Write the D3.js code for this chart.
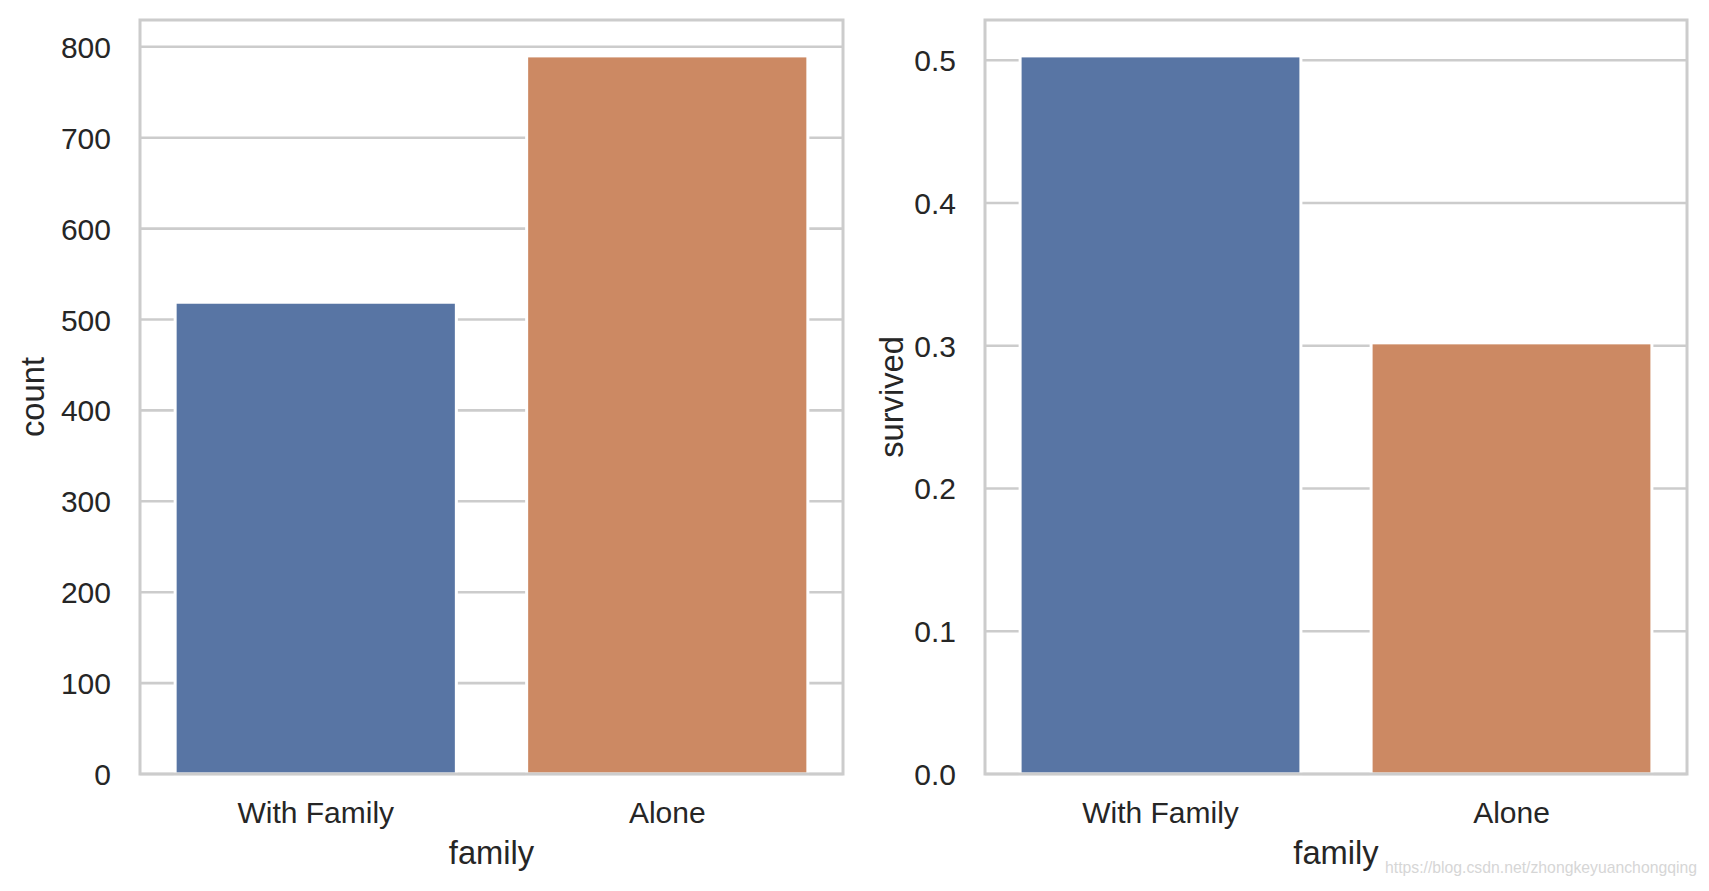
<!DOCTYPE html>
<html>
<head>
<meta charset="utf-8">
<script src="https://cdn.jsdelivr.net/npm/d3@7"></script>
<style>
  body { margin: 0; background: #fff; }
  svg { display: block; }
  text { font-family: "Liberation Sans", Arial, sans-serif; fill: #262626; }
</style>
</head>
<body>
<div id="vis"></div>
<script>
// data
const categories = ["With Family", "Alone"];
const countValues = [519, 790];
const survivedValues = [0.503, 0.302];
const countTicks = [0, 100, 200, 300, 400, 500, 600, 700, 800];
const survivedTicks = [0.0, 0.1, 0.2, 0.3, 0.4, 0.5];
const barColors = ["#5875a4", "#cc8963"];

const FRAME_WIDTH = 1709;
const FRAME_HEIGHT = 891;
const TOP = 20;
const BOTTOM = 774;

const FRAME = d3.select("#vis")
  .append("svg")
    .attr("width", FRAME_WIDTH)
    .attr("height", FRAME_HEIGHT);

function drawPanel(left, right, values, ticks, fmt, yLabel, yLabelX) {
  const g = FRAME.append("g");
  const width = right - left;

  const X_SCALE = d3.scaleBand()
    .domain(categories)
    .range([left, right])
    .paddingInner(0.2)
    .paddingOuter(0.1);

  const Y_SCALE = d3.scaleLinear()
    .domain([0, d3.max(values) * 1.05])
    .range([BOTTOM, TOP]);

  // grid lines behind the bars
  g.append("g")
    .selectAll("line")
    .data(ticks)
    .enter()
    .append("line")
      .attr("x1", left)
      .attr("x2", right)
      .attr("y1", d => Y_SCALE(d))
      .attr("y2", d => Y_SCALE(d))
      .attr("stroke", "#cccccc")
      .attr("stroke-width", 2.6);

  // bars
  g.append("g")
    .selectAll("rect")
    .data(values)
    .enter()
    .append("rect")
      .attr("x", (d, i) => X_SCALE(categories[i]))
      .attr("y", d => Y_SCALE(d))
      .attr("width", X_SCALE.bandwidth())
      .attr("height", d => BOTTOM - Y_SCALE(d))
      .attr("fill", (d, i) => barColors[i])
      .attr("stroke", "#ffffff")
      .attr("stroke-width", 3);

  // y axis labels
  const yAxis = g.append("g")
    .attr("transform", "translate(" + left + ",0)")
    .call(d3.axisLeft(Y_SCALE).tickValues(ticks).tickFormat(fmt).tickSize(0).tickPadding(29));
  yAxis.select(".domain").remove();
  yAxis.selectAll("text")
    .attr("font-size", "30px")
    .attr("fill", "#262626")
    .attr("dy", "0.35em");
  yAxis.attr("font-family", null);

  // x axis labels
  const xAxis = g.append("g")
    .attr("transform", "translate(0," + BOTTOM + ")")
    .call(d3.axisBottom(X_SCALE).tickSize(0).tickPadding(28));
  xAxis.select(".domain").remove();
  xAxis.selectAll("text")
    .attr("font-size", "30px")
    .attr("fill", "#262626");
  xAxis.attr("font-family", null);

  // frame
  g.append("rect")
    .attr("x", left)
    .attr("y", TOP)
    .attr("width", width)
    .attr("height", BOTTOM - TOP)
    .attr("fill", "none")
    .attr("stroke", "#cccccc")
    .attr("stroke-width", 3);

  // axis titles
  g.append("text")
    .attr("x", (left + right) / 2)
    .attr("y", 864)
    .attr("text-anchor", "middle")
    .style("font-size", "32.7px")
    .text("family");

  g.append("text")
    .attr("transform", "translate(" + yLabelX + "," + ((TOP + BOTTOM) / 2) + ") rotate(-90)")
    .attr("text-anchor", "middle")
    .style("font-size", "32.7px")
    .text(yLabel);
}

drawPanel(140, 843, countValues, countTicks, d3.format("d"), "count", 44);
drawPanel(985, 1687, survivedValues, survivedTicks, d3.format(".1f"), "survived", 903);

// watermark
FRAME.append("text")
  .attr("x", 1385)
  .attr("y", 873)
  .attr("textLength", 312)
  .attr("lengthAdjust", "spacingAndGlyphs")
  .style("font-size", "17px")
  .style("fill", "#d6d6d6")
  .text("https://blog.csdn.net/zhongkeyuanchongqing");
</script>
</body>
</html>
